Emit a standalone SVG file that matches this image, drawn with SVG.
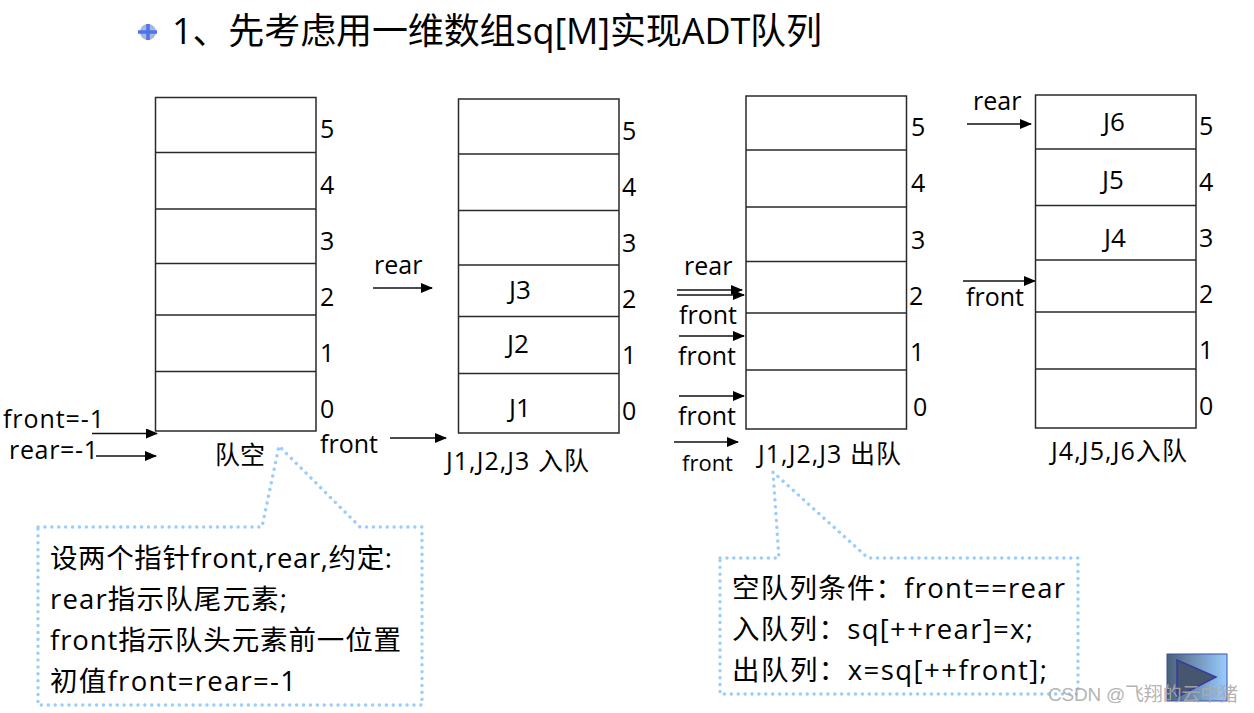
<svg xmlns="http://www.w3.org/2000/svg" width="1254" height="713" viewBox="0 0 1254 713">
<style>
text{font-family:"Open Sans","Noto Sans CJK SC",sans-serif;fill:#000;font-size:25px}
.t{font-size:36px}
.k{font-size:27.500px}
.j{font-size:26px}
.m{text-anchor:middle}
.b{fill:none;stroke:#2a2a2a;stroke-width:1.5}
.a{fill:none;stroke:#111;stroke-width:1.4;marker-end:url(#h)}
.d{fill:none;stroke:#99ccff;stroke-width:3.4;stroke-dasharray:.1 6.800;stroke-linecap:round}
</style>
<defs>
<marker id="h" markerUnits="userSpaceOnUse" markerWidth="12" markerHeight="10" refX="11" refY="5" orient="auto"><path d="M0 0L12 5L0 10Z" fill="#000"/></marker>
<linearGradient id="g" x1="0" x2="1"><stop offset="0" stop-color="#4a6078"/><stop offset="1" stop-color="#99ccff"/></linearGradient>
</defs>
<rect width="1254" height="713" fill="#fff"/>
<g id="title">
<circle cx="148" cy="32" r="8" fill="#a9b6d6"/><path d="M138 32H157M148 24V40" stroke="#4d73f0" stroke-width="3.500"/>
<text class="t" x="172" y="44" textLength="650" lengthAdjust="spacing">1、先考虑用一维数组sq[M]实现ADT队列</text>
</g>
<g id="connectors">
<path class="a" d="M92 433.500H157"/><path class="a" d="M96 456H156"/>
<path class="a" d="M390 438H446"/><path class="a" d="M373 288H432"/>
<path class="a" d="M677 290H742"/><path class="a" d="M677 295H744"/>
<path class="a" d="M679 336H744"/><path class="a" d="M679 396H744"/><path class="a" d="M674 442H738"/>
<path class="a" d="M967 124H1031"/><path class="a" d="M963 281H1035"/>
</g>
<g id="queue1">
<path class="b" d="M155.500 97.500H316V431H155.500ZM155.500 152.500H316M155.500 209H316M155.500 263.500H316M155.500 315H316M155.500 371.500H316"/>
<text x="320" y="138">5</text><text x="320" y="194">4</text><text x="320" y="250">3</text><text x="320" y="306">2</text><text x="320" y="362">1</text><text x="320" y="418">0</text>
<text class="m" x="240" y="464" textLength="50">队空</text>
</g>
<g id="queue2">
<path class="b" d="M458.500 99H619V433H458.500ZM458.500 154H619M458.500 210.500H619M458.500 265H619M458.500 316.500H619M458.500 373.500H619"/>
<text x="622" y="140">5</text><text x="622" y="196">4</text><text x="622" y="252">3</text><text x="622" y="308">2</text><text x="622" y="364">1</text><text x="622" y="420">0</text>
<text class="j" x="509" y="299">J3</text><text class="j" x="507" y="353">J2</text><text class="j" x="509" y="417">J1</text>
<text x="446" y="470" textLength="143">J1,J2,J3 入队</text>
</g>
<g id="queue3">
<path class="b" d="M746 96H906.500V429H746ZM746 150H906.500M746 207H906.500M746 261.500H906.500M746 313H906.500M746 370H906.500"/>
<text x="911" y="136">5</text><text x="911" y="192">4</text><text x="911" y="249">3</text><text x="909" y="305">2</text><text x="910" y="361">1</text><text x="913" y="416">0</text>
<text x="758" y="463" textLength="143">J1,J2,J3 出队</text>
</g>
<g id="queue4">
<path class="b" d="M1035.500 95H1196V428H1035.500ZM1035.500 149H1196M1035.500 205.500H1196M1035.500 260H1196M1035.500 312H1196M1035.500 369H1196"/>
<text x="1199" y="135">5</text><text x="1199" y="191">4</text><text x="1199" y="247">3</text><text x="1199" y="303">2</text><text x="1199" y="359">1</text><text x="1199" y="415">0</text>
<text class="j" x="1103" y="131">J6</text><text class="j" x="1102" y="189">J5</text><text class="j" x="1104" y="247">J4</text>
<text x="1051" y="460" textLength="136">J4,J5,J6入队</text>
</g>
<g id="labels">
<text x="3" y="428" textLength="101">front=-1</text><text x="9" y="459" textLength="89">rear=-1</text>
<text x="320" y="453">front</text><text x="374" y="274">rear</text>
<text x="684" y="275">rear</text><text x="679" y="324">front</text><text x="678" y="365">front</text><text x="678" y="425">front</text><text x="682" y="471" style="font-size:22px">front</text>
<text x="973" y="110">rear</text><text x="966" y="306">front</text>
</g>
<g id="callout1">
<path class="d" d="M38 527H262L279 446L360 527H422V705H38Z"/>
<text class="k" x="50" y="568" textLength="342">设两个指针front,rear,约定:</text>
<text class="k" x="50" y="609" textLength="237">rear指示队尾元素;</text>
<text class="k" x="50" y="650" textLength="351">front指示队头元素前一位置</text>
<text class="k" x="50" y="691" textLength="246">初值front=rear=-1</text>
</g>
<g id="callout2">
<path class="d" d="M720 558H779L773 472L868 558H1078V694H720Z"/>
<text class="k" x="732" y="598" textLength="333">空队列条件：front==rear</text>
<text class="k" x="732" y="639" textLength="301">入队列：sq[++rear]=x;</text>
<text class="k" x="732" y="680" textLength="315">出队列：x=sq[++front];</text>
</g>
<g id="play">
<rect x="1167" y="654" width="60" height="47" fill="url(#g)" stroke="#3f4fa0"/>
<path d="M1177 660L1216 677L1177 697Z" fill="#46566e" stroke="#3a3aa0" stroke-width="1.500"/>
</g>
<text id="wm" x="1048" y="701" textLength="190" style="font-size:19px;fill:#aaa;fill-opacity:.9;font-family:'Liberation Sans','Noto Sans CJK SC',sans-serif">CSDN @飞翔的云中猪</text>
</svg>
